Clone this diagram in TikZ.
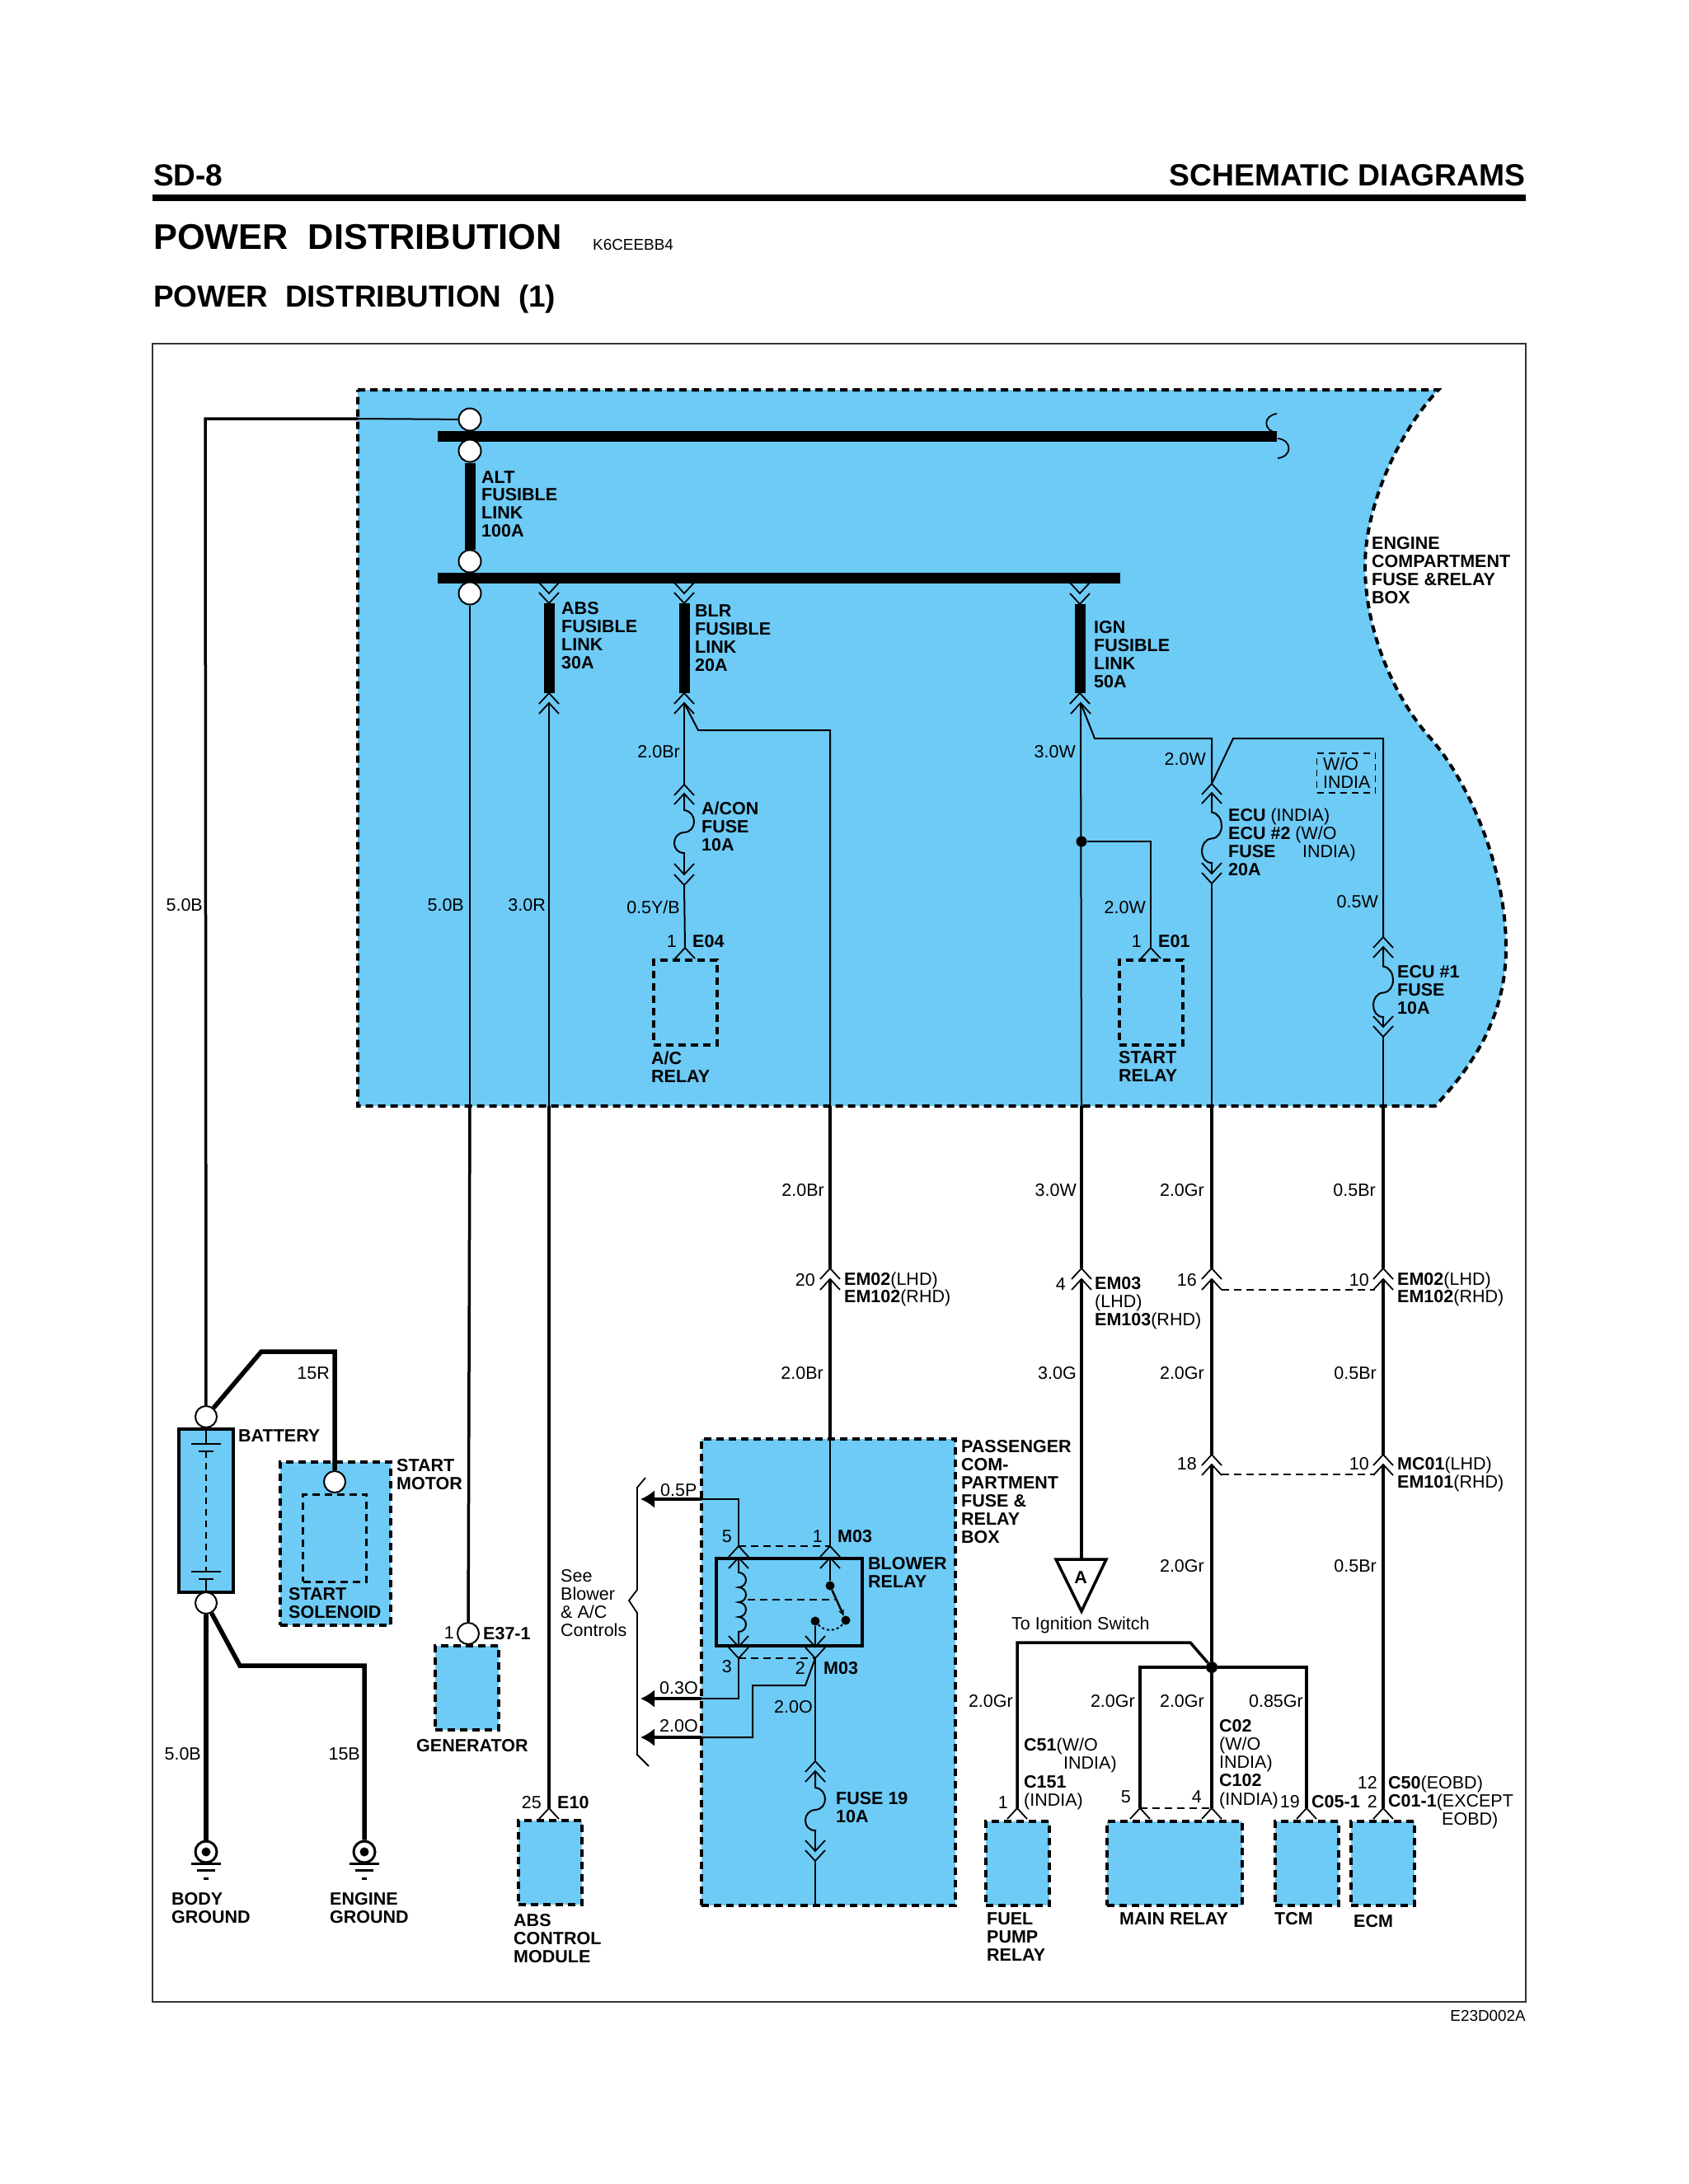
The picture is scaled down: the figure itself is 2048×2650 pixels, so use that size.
\documentclass[tikz,border=0pt]{standalone}
\usepackage{fontspec}
\setmainfont{Liberation Sans}
\usetikzlibrary{arrows.meta}
\definecolor{boxblue}{HTML}{6DCBF6}
\tikzstyle{dashbox} = [rectangle, draw=black, fill=boxblue, line width=4pt, dash pattern=on 9pt off 6pt, inner sep=0pt]
\tikzstyle{thin wire} = [line width=2pt]
\tikzstyle{thick wire} = [line width=3.5pt]
\tikzstyle{heavy wire} = [line width=5.5pt, line join=miter]
\tikzstyle{busbar} = [line width=13pt]
\tikzstyle{pin} = [line width=1.8pt]
\tikzstyle{link} = [dash pattern=on 9pt off 6pt, line width=1.8pt]
\tikzstyle{term} = [circle, draw=black, fill=white, line width=2pt, minimum size=27pt, inner sep=0pt]
\tikzstyle{dot} = [circle, fill=black, minimum size=13pt, inner sep=0pt]
\tikzstyle{smalldot} = [circle, fill=black, minimum size=11pt, inner sep=0pt]
\tikzstyle{wlbl} = [anchor=east, inner sep=0pt, text height=16pt, text depth=0pt, font=\fontsize{21.5}{22}\selectfont]
\tikzstyle{plbl} = [anchor=west, inner sep=0pt, text height=16pt, text depth=0pt, font=\fontsize{21.5}{22}\selectfont]
\tikzstyle{stack} = [anchor=north west, inner sep=0pt, align=left, font=\fontsize{21.5}{22}\selectfont\bfseries]
\tikzstyle{rstack} = [anchor=north west, inner sep=0pt, align=left, font=\fontsize{21.5}{22}\selectfont]
\tikzstyle{outarrow} = [thick wire, -{Latex[length=17pt,width=22pt]}]
\newcommand{\chevup}[1]{\draw [pin, shift={(#1)}] (-12,13) -- (0,0) -- (12,13);}
\newcommand{\chevdn}[1]{\draw [pin, shift={(#1)}] (-12,-13) -- (0,0) -- (12,-13);}
\newcommand{\fuseline}[2]{\draw [thin wire, shift={(#1)}, yscale=#2] (0,0) -- (0,20) .. controls (16,22) and (16,46) .. (0,47) .. controls (-16,48) and (-16,72) .. (0,72) -- (0,73);}
\newcommand{\groundbars}[1]{
\draw [line width=3pt, shift={(#1)}] (-18,14) -- (18,14);
\draw [line width=3pt, shift={(#1)}] (-11,22) -- (11,22);
\draw [line width=3pt, shift={(#1)}] (-3,32) -- (3,32);
}

\begin{document}
\begin{tikzpicture}[x=1pt, y=-1pt]
\useasboundingbox (0,0) rectangle (2048,2650);

\node (sd) [anchor=west, inner sep=0pt, text height=26pt, text depth=0pt, font=\fontsize{37}{37}\selectfont\bfseries] at (186,212) {SD-8};
\node (schem) [anchor=east, inner sep=0pt, text height=26pt, text depth=0pt, font=\fontsize{37.3}{38}\selectfont\bfseries] at (1851,212) {SCHEMATIC DIAGRAMS};
\coordinate (rulel) at (185,240);
\coordinate (ruler) at (1851,240);
\draw [line width=7.5pt] (rulel) -- (ruler);
\node (title) [anchor=west, inner sep=0pt, text height=31pt, text depth=0pt, font=\fontsize{43.3}{44}\selectfont\bfseries] at (186,287) {POWER\ \ DISTRIBUTION};
\node (code) [anchor=west, inner sep=0pt, text height=13pt, text depth=0pt, font=\fontsize{18.9}{19}\selectfont] at (719,297) {K6CEEBB4};
\node (subtitle) [anchor=west, inner sep=0pt, text height=26pt, text depth=0pt, font=\fontsize{36.9}{37}\selectfont\bfseries] at (186,359) {POWER\ \ DISTRIBUTION\ \ (1)};
\node (figcode) [anchor=east, inner sep=0pt, text height=13pt, text depth=0pt, font=\fontsize{18.9}{19}\selectfont] at (1851,2446) {E23D002A};
\draw [line width=2pt, draw=black!80] (185,417) rectangle (1851,2429);

% engine compartment box
\draw [fill=boxblue, line width=4pt, dash pattern=on 9pt off 6pt] (434,473) -- (1745,473) .. controls (1700,520) and (1656,610) .. (1656,687) .. controls (1656,770) and (1695,850) .. (1733,893) .. controls (1780,945) and (1827,1050) .. (1827,1150) .. controls (1827,1230) and (1790,1290) .. (1741,1342) -- (434,1342) -- cycle;

% bus bars and links
\coordinate (bus1l) at (531,529);
\coordinate (bus1r) at (1549,529);
\coordinate (bus2l) at (531,701);
\coordinate (bus2r) at (1359,701);
\draw [busbar] (bus1l) -- (bus1r);
\draw [busbar] (bus2l) -- (bus2r);
\draw [pin] (1549,502) .. controls (1532,504) and (1532,523) .. (1549,525);
\draw [pin] (1550,532) .. controls (1568,534) and (1568,554) .. (1550,556);
\node (alt1) [term] at (570,509) {};
\node (alt2) [term] at (570,547) {};
\node (alt3) [term] at (570,681) {};
\node (alt4) [term] at (570,720) {};
\draw [busbar] (alt2) -- (alt3);

\coordinate (absa) at (666,720);
\coordinate (absb) at (666,732);
\coordinate (absc) at (666,841);
\coordinate (absd) at (666,853);
\coordinate (blra) at (830,720);
\coordinate (blrb) at (830,732);
\coordinate (blrc) at (830,841);
\coordinate (blrd) at (830,853);
\coordinate (igna) at (1310,720);
\coordinate (ignb) at (1310,733);
\coordinate (ignc) at (1310,841);
\coordinate (ignd) at (1311,853);
\draw [busbar] (absb) -- (absc);
\draw [busbar] (blrb) -- (blrc);
\draw [busbar] (ignb) -- (ignc);
\foreach \p in {absa,absb,blra,blrb,igna,ignb} {\chevdn{\p}}
\foreach \p in {absc,absd,blrc,blrd,ignc,ignd} {\chevup{\p}}

% a/con fuse and relay
\coordinate (acona) at (830,952);
\coordinate (aconb) at (830,963);
\coordinate (aconc) at (830,1036);
\coordinate (acond) at (830,1061);
\coordinate (acone) at (830,1074);
\coordinate (e04pin) at (831,1150);
\chevup{acona} \chevup{aconb} \chevdn{acond} \chevdn{acone}
\fuseline{aconb}{1}
\draw [thin wire] (blrd) -- (acona);
\draw [thin wire] (aconc) -- (acond);
\draw [thin wire] (acone) -- (e04pin);
\chevup{e04pin}
\node (e04box) [dashbox, minimum width=77pt, minimum height=103pt] at (831.5,1216) {};

% start relay branch
\node (ignjoin) [dot] at (1312,1021) {};
\coordinate (e01corner) at (1396,1021);
\coordinate (e01pin) at (1396,1150);
\chevup{e01pin}
\draw [thin wire] (ignjoin) -- (e01corner) -- (e01pin);
\node (e01box) [dashbox, minimum width=77pt, minimum height=103pt] at (1396,1216) {};

% ecu fuses
\coordinate (ecua) at (1470,951);
\coordinate (ecub) at (1470,962);
\coordinate (ecuc) at (1470,1048);
\coordinate (ecud) at (1470,1060);
\coordinate (ecue) at (1470,1072);
\chevup{ecua} \chevup{ecub} \chevdn{ecud} \chevdn{ecue}
\fuseline{ecub}{1.18}
\coordinate (ecfa) at (1678,1137);
\coordinate (ecfb) at (1678,1149);
\coordinate (ecfc) at (1678,1235);
\coordinate (ecfd) at (1678,1246);
\coordinate (ecfe) at (1678,1258);
\chevup{ecfa} \chevup{ecfb} \chevdn{ecfd} \chevdn{ecfe}
\fuseline{ecfb}{1.18}
\draw [thin wire] (ecfc) -- (ecfd);
\draw [thin wire] (ecuc) -- (ecud);
\draw [thin wire] (ignd) -- (1328,896) -- (1470,896) -- (ecua);
\draw [thin wire] (ecua) -- (1496,896) -- (1678,896) -- (ecfa);
\draw [thin wire] (blrd) -- (847,886) -- (1007,886) -- (1007,1342);

\node (wobox) [draw=black, line width=1.8pt, dash pattern=on 8pt off 6pt, minimum width=71pt, minimum height=48pt, inner sep=0pt] at (1633,938) {};
\node (wotxt) [rstack] at (1605,919) {W/O\\INDIA};

% main wires through the page
\coordinate (c20a) at (1007,1539);
\coordinate (c20b) at (1007,1552);
\coordinate (c04a) at (1312,1539);
\coordinate (c04b) at (1312,1552);
\coordinate (c16a) at (1470,1539);
\coordinate (c16b) at (1470,1552);
\coordinate (c18a) at (1470,1765);
\coordinate (c18b) at (1470,1777);
\coordinate (c10a) at (1678,1539);
\coordinate (c10b) at (1678,1552);
\coordinate (c12a) at (1678,1765);
\coordinate (c12b) at (1678,1777);
\foreach \p in {c20a,c20b,c04a,c04b,c16a,c16b,c18a,c18b,c10a,c10b,c12a,c12b} {\chevup{\p}}
\draw [thin wire] (ignd) -- (1312,1342);
\draw [thin wire] (ecue) -- (1470,1342);
\draw [thin wire] (ecfe) -- (1678,1342);
\draw [thin wire] (absd) -- (666,1342);
\draw [thin wire] (alt4) -- (570,1342);
\draw [thick wire] (1007,1342) -- (c20a);
\draw [thick wire] (1312,1342) -- (c04a);
\draw [thick wire] (1470,1342) -- (c16a);
\draw [thick wire] (1678,1342) -- (c10a);
\draw [thick wire] (c16b) -- (c18a);
\draw [thick wire] (c10b) -- (c12a);
\draw [link] (1482,1565) -- (1668,1565);
\draw [link] (1482,1789) -- (1668,1789);

% battery side
\node (batbox) [rectangle, draw=black, fill=boxblue, line width=3.5pt, minimum width=66pt, minimum height=198pt, inner sep=0pt] at (250,1833) {};
\node (batplus) [term, minimum size=26pt] at (250,1719) {};
\node (batminus) [term, minimum size=26pt] at (250,1945) {};
\coordinate (batcorner) at (249,508);
\coordinate (blueedge) at (434,508);
\draw [thick wire] (batplus) -- (batcorner) -- (blueedge);
\draw [thin wire] (blueedge) -- (alt1);
\draw [pin] (250,1734) -- (250,1752);
\draw [line width=2pt] (232,1752) -- (268,1752);
\draw [line width=2pt] (241,1761) -- (259,1761);
\draw [line width=2pt, dash pattern=on 8pt off 6pt] (250,1761) -- (250,1907);
\draw [line width=2pt] (232,1907) -- (268,1907);
\draw [line width=2pt] (241,1916) -- (259,1916);
\draw [pin] (250,1916) -- (250,1932);

\node (motorbox) [dashbox, minimum width=134pt, minimum height=198pt] at (407,1873) {};
\node (solbox) [draw=black, line width=3pt, dash pattern=on 9pt off 6pt, minimum width=77pt, minimum height=106pt, inner sep=0pt] at (406,1866) {};
\node (motorpin) [term, minimum size=26pt] at (406,1798) {};
\draw [heavy wire] (batplus) -- (317,1640) -- (406,1640) -- (motorpin);

\node (gbody) [circle, draw=black, fill=white, line width=3pt, minimum size=26pt, inner sep=0pt] at (250,2247) {};
\node (gbodyc) [smalldot] at (gbody) {};
\node (gengine) [circle, draw=black, fill=white, line width=3pt, minimum size=26pt, inner sep=0pt] at (442,2247) {};
\node (gengc) [smalldot] at (gengine) {};
\groundbars{gbody}
\groundbars{gengine}
\draw [heavy wire] (batminus) -- (gbody);
\draw [heavy wire] (batminus) -- (291,2021) -- (442,2021) -- (gengine);

% generator and abs
\node (genbox) [dashbox, minimum width=77pt, minimum height=102pt] at (566,2048) {};
\node (genpin) [term, minimum size=26pt] at (568,1982) {};
\draw [thick wire] (570,1342) -- (genpin);
\node (absbox) [dashbox, minimum width=77pt, minimum height=102pt] at (667,2260) {};
\coordinate (e10pin) at (666,2194);
\chevup{e10pin}
\draw [thick wire] (666,1342) -- (e10pin);

% passenger box
\node (passbox) [dashbox, minimum width=308pt, minimum height=566pt] at (1005,2029) {};
\draw [thick wire] (c20b) -- (1007,1746);
\coordinate (m031) at (1007,1876);
\coordinate (m035) at (896,1876);
\coordinate (m033) at (896,2012);
\coordinate (m032) at (989,2012);
\draw [thin wire] (1007,1746) -- (m031);
\node (relaybox) [rectangle, draw=black, line width=3.5pt, minimum width=177pt, minimum height=106pt, inner sep=0pt] at (957.5,1944) {};
\foreach \p in {m031,m035} {\chevup{\p}}
\chevup{896,1890} \chevup{1007,1890}
\foreach \p in {m033,m032} {\chevdn{\p}}
\chevdn{896,1998} \chevdn{989,1998}
\draw [link] (m035) -- (m031);
\draw [link] (m033) -- (m032);
\draw [thin wire] (896,1890) -- (896,1908) arc (90:-90:9pt) arc (90:-90:9pt) arc (90:-90:9pt) arc (90:-90:9pt) -- (896,1998);
\node (cona) [smalldot] at (1007,1924) {};
\node (conb) [smalldot] at (1026,1966) {};
\node (conc) [smalldot] at (989,1967) {};
\draw [thin wire] (1007,1890) -- (cona);
\draw [thin wire] (conc) -- (989,1998);
\draw [line width=2.5pt, -{Stealth[length=8pt,width=7pt]}] (cona) -- (conb);
\draw [line width=2pt, dash pattern=on 3pt off 3pt] (conc) .. controls (1000,1980) and (1015,1980) .. (conb);
\draw [link] (907,1941) -- (1013,1941);

\coordinate (arr05) at (777,1819);
\coordinate (arr03) at (777,2061);
\coordinate (arr20) at (777,2108);
\draw [thin wire] (m035) -- (896,1819) -- (851,1819);
\draw [outarrow] (851,1819) -- (arr05);
\draw [thin wire] (m033) -- (896,2061) -- (851,2061);
\draw [outarrow] (851,2061) -- (arr03);
\draw [thin wire] (m032) -- (977,2045) -- (913,2045) -- (913,2108) -- (851,2108);
\draw [outarrow] (851,2108) -- (arr20);

\coordinate (f19a) at (989,2137);
\coordinate (f19b) at (989,2149);
\coordinate (f19c) at (989,2222);
\coordinate (f19d) at (989,2246);
\coordinate (f19e) at (989,2258);
\chevup{f19a} \chevup{f19b} \chevdn{f19d} \chevdn{f19e}
\fuseline{f19b}{1}
\draw [thin wire] (m032) -- (f19a);
\draw [thin wire] (f19c) -- (f19d);
\draw [thin wire] (f19e) -- (989,2312);

\draw [pin] (783,1793) -- (773,1805) -- (773,1929) -- (763,1942) -- (773,1957) -- (773,2129) -- (787,2143);

% loads along the bottom
\node (fuelbox) [dashbox, minimum width=77pt, minimum height=102pt] at (1234,2261) {};
\node (mainbox) [dashbox, minimum width=164pt, minimum height=102pt] at (1425,2261) {};
\node (tcmbox) [dashbox, minimum width=77pt, minimum height=102pt] at (1585,2261) {};
\node (ecmbox) [dashbox, minimum width=77pt, minimum height=102pt] at (1677,2261) {};
\coordinate (tria) at (1312,1892);
\draw [thick wire, line join=miter] (1281,1892) -- (1342,1892) -- (1312,1955) -- cycle;
\draw [thick wire] (c04b) -- (tria);
\node (trial) [anchor=center, inner sep=0pt, font=\fontsize{21.5}{22}\selectfont\bfseries] at (1311,1914) {A};
\node (busjoin) [dot, minimum size=14pt] at (1470,2023) {};
\coordinate (fuelpin) at (1234,2194);
\coordinate (m5pin) at (1383,2194);
\coordinate (m4pin) at (1470,2194);
\coordinate (tcmpin) at (1585,2194);
\coordinate (ecmpin) at (1678,2194);
\foreach \p in {fuelpin,m5pin,m4pin,tcmpin,ecmpin} {\chevup{\p}}
\draw [thick wire] (c18b) -- (busjoin);
\draw [thick wire] (busjoin) -- (m4pin);
\draw [thick wire] (busjoin) -- (1383,2023) -- (m5pin);
\draw [thick wire] (busjoin) -- (1585,2023) -- (tcmpin);
\draw [thick wire] (busjoin) -- (1444,1993) -- (1234,1993) -- (fuelpin);
\draw [thick wire] (c12b) -- (ecmpin);
\draw [link] (m5pin) -- (m4pin);

% labels inside the engine box
\node (l1) [stack] at (584,571) {ALT\\FUSIBLE\\LINK\\100A};
\node (l2) [stack] at (681,730) {ABS\\FUSIBLE\\LINK\\30A};
\node (l3) [stack] at (843,733) {BLR\\FUSIBLE\\LINK\\20A};
\node (l4) [stack] at (1327,753) {IGN\\FUSIBLE\\LINK\\50A};
\node (l5) [stack] at (851,973) {A/CON\\FUSE\\10A};
\node (l6) [stack] at (1695,1171) {ECU \#1\\FUSE\\10A};
\node (l7) [stack] at (1664,651) {ENGINE\\COMPARTMENT\\FUSE \&RELAY\\BOX};
\node (l8) [plbl] at (1490,988) {\textbf{ECU} (INDIA)};
\node (l9) [plbl] at (1490,1010) {\textbf{ECU \#2} (W/O};
\node (l10) [plbl] at (1490,1032) {\textbf{FUSE}};
\node (l11) [plbl] at (1580,1032) {INDIA)};
\node (l12) [plbl] at (1490,1054) {\textbf{20A}};
\node (l13) [wlbl] at (825,911) {2.0Br};
\node (l14) [wlbl] at (1305,911) {3.0W};
\node (l15) [wlbl] at (1463,920) {2.0W};
\node (l16) [wlbl] at (1390,1100) {2.0W};
\node (l17) [wlbl] at (1672,1093) {0.5W};
\node (l18) [wlbl] at (246,1097) {5.0B};
\node (l19) [wlbl] at (563,1097) {5.0B};
\node (l20) [wlbl] at (662,1097) {3.0R};
\node (l21) [wlbl] at (825,1100) {0.5Y/B};
\node (l22) [wlbl] at (821,1141) {1};
\node (l23) [plbl] at (840,1141) {\textbf{E04}};
\node (l24) [wlbl] at (1385,1141) {1};
\node (l25) [plbl] at (1405,1141) {\textbf{E01}};
\node (l26) [stack] at (790,1276) {A/C\\RELAY};
\node (l27) [stack] at (1357,1275) {START\\RELAY};

% labels along the middle wires
\node (l28) [wlbl] at (1000,1443) {2.0Br};
\node (l29) [wlbl] at (1306,1443) {3.0W};
\node (l30) [wlbl] at (1461,1443) {2.0Gr};
\node (l31) [wlbl] at (1669,1443) {0.5Br};
\node (l32) [wlbl] at (989,1552) {20};
\node (l33) [plbl] at (1024,1551) {\textbf{EM02}(LHD)};
\node (l34) [plbl] at (1024,1572) {\textbf{EM102}(RHD)};
\node (l35) [wlbl] at (1293,1557) {4};
\node (l36) [plbl] at (1328,1556) {\textbf{EM03}};
\node (l37) [plbl] at (1328,1578) {(LHD)};
\node (l38) [plbl] at (1328,1600) {\textbf{EM103}(RHD)};
\node (l39) [wlbl] at (1452,1552) {16};
\node (l40) [wlbl] at (1661,1552) {10};
\node (l41) [plbl] at (1695,1551) {\textbf{EM02}(LHD)};
\node (l42) [plbl] at (1695,1572) {\textbf{EM102}(RHD)};
\node (l43) [wlbl] at (999,1665) {2.0Br};
\node (l44) [wlbl] at (1306,1665) {3.0G};
\node (l45) [wlbl] at (1461,1665) {2.0Gr};
\node (l46) [wlbl] at (1670,1665) {0.5Br};
\node (l47) [wlbl] at (1452,1775) {18};
\node (l48) [wlbl] at (1661,1775) {10};
\node (l49) [plbl] at (1695,1775) {\textbf{MC01}(LHD)};
\node (l50) [plbl] at (1695,1797) {\textbf{EM101}(RHD)};
\node (l51) [wlbl] at (1461,1899) {2.0Gr};
\node (l52) [wlbl] at (1670,1899) {0.5Br};

% labels of the battery side
\node (l53) [wlbl] at (400,1665) {15R};
\node (l54) [plbl] at (289,1741) {\textbf{BATTERY}};
\node (l55) [stack] at (481,1770) {START\\MOTOR};
\node (l56) [stack] at (350,1926) {START\\SOLENOID};
\node (l57) [wlbl] at (244,2127) {5.0B};
\node (l58) [wlbl] at (437,2127) {15B};
\node (l59) [stack] at (208,2296) {BODY\\GROUND};
\node (l60) [stack] at (400,2296) {ENGINE\\GROUND};
\node (l61) [wlbl] at (551,1980) {1};
\node (l62) [plbl] at (586,1981) {\textbf{E37-1}};
\node (l63) [plbl] at (505,2117) {\textbf{GENERATOR}};
\node (l64) [wlbl] at (657,2186) {25};
\node (l65) [plbl] at (676,2186) {\textbf{E10}};
\node (l66) [stack] at (623,2322) {ABS\\CONTROL\\MODULE};

% labels of the passenger box
\node (l67) [rstack] at (680,1904) {See\\Blower\\\& A/C\\Controls};
\node (l68) [stack] at (1166,1747) {PASSENGER\\COM-\\PARTMENT\\FUSE \&\\RELAY\\BOX};
\node (l69) [stack] at (1053,1889) {BLOWER\\RELAY};
\node (l70) [wlbl] at (888,1863) {5};
\node (l71) [wlbl] at (998,1863) {1};
\node (l72) [plbl] at (1016,1863) {\textbf{M03}};
\node (l73) [wlbl] at (888,2021) {3};
\node (l74) [wlbl] at (977,2023) {2};
\node (l75) [plbl] at (999,2023) {\textbf{M03}};
\node (l76) [wlbl] at (986,2070) {2.0O};
\node (l77) [stack] at (1014,2174) {FUSE 19\\10A};
\node (l78) [plbl] at (801,1807) {0.5P};
\node (l79) [plbl] at (800,2047) {0.3O};
\node (l80) [plbl] at (800,2093) {2.0O};

% labels of the loads
\node (l81) [plbl] at (1227,1969) {To Ignition Switch};
\node (l82) [wlbl] at (1229,2063) {2.0Gr};
\node (l83) [wlbl] at (1377,2063) {2.0Gr};
\node (l84) [wlbl] at (1461,2063) {2.0Gr};
\node (l85) [wlbl] at (1581,2063) {0.85Gr};
\node (l86) [plbl] at (1242,2116) {\textbf{C51}(W/O};
\node (l87) [plbl] at (1290,2138) {INDIA)};
\node (l88) [plbl] at (1242,2161) {\textbf{C151}};
\node (l89) [plbl] at (1242,2183) {(INDIA)};
\node (l90) [wlbl] at (1223,2186) {1};
\node (l91) [wlbl] at (1372,2179) {5};
\node (l92) [wlbl] at (1458,2179) {4};
\node (l93) [plbl] at (1479,2093) {\textbf{C02}};
\node (l94) [plbl] at (1479,2115) {(W/O};
\node (l95) [plbl] at (1479,2137) {INDIA)};
\node (l96) [plbl] at (1479,2159) {\textbf{C102}};
\node (l97) [plbl] at (1479,2182) {(INDIA)};
\node (l98) [wlbl] at (1577,2185) {19};
\node (l99) [plbl] at (1591,2185) {\textbf{C05-1}};
\node (l100) [wlbl] at (1671,2162) {12};
\node (l101) [wlbl] at (1671,2185) {2};
\node (l102) [plbl] at (1684,2162) {\textbf{C50}(EOBD)};
\node (l103) [plbl] at (1684,2184) {\textbf{C01-1}(EXCEPT};
\node (l104) [plbl] at (1749,2206) {EOBD)};
\node (l105) [stack] at (1197,2320) {FUEL\\PUMP\\RELAY};
\node (l106) [plbl] at (1358,2327) {\textbf{MAIN RELAY}};
\node (l107) [plbl] at (1546,2327) {\textbf{TCM}};
\node (l108) [plbl] at (1642,2330) {\textbf{ECM}};

\end{tikzpicture}
\end{document}
